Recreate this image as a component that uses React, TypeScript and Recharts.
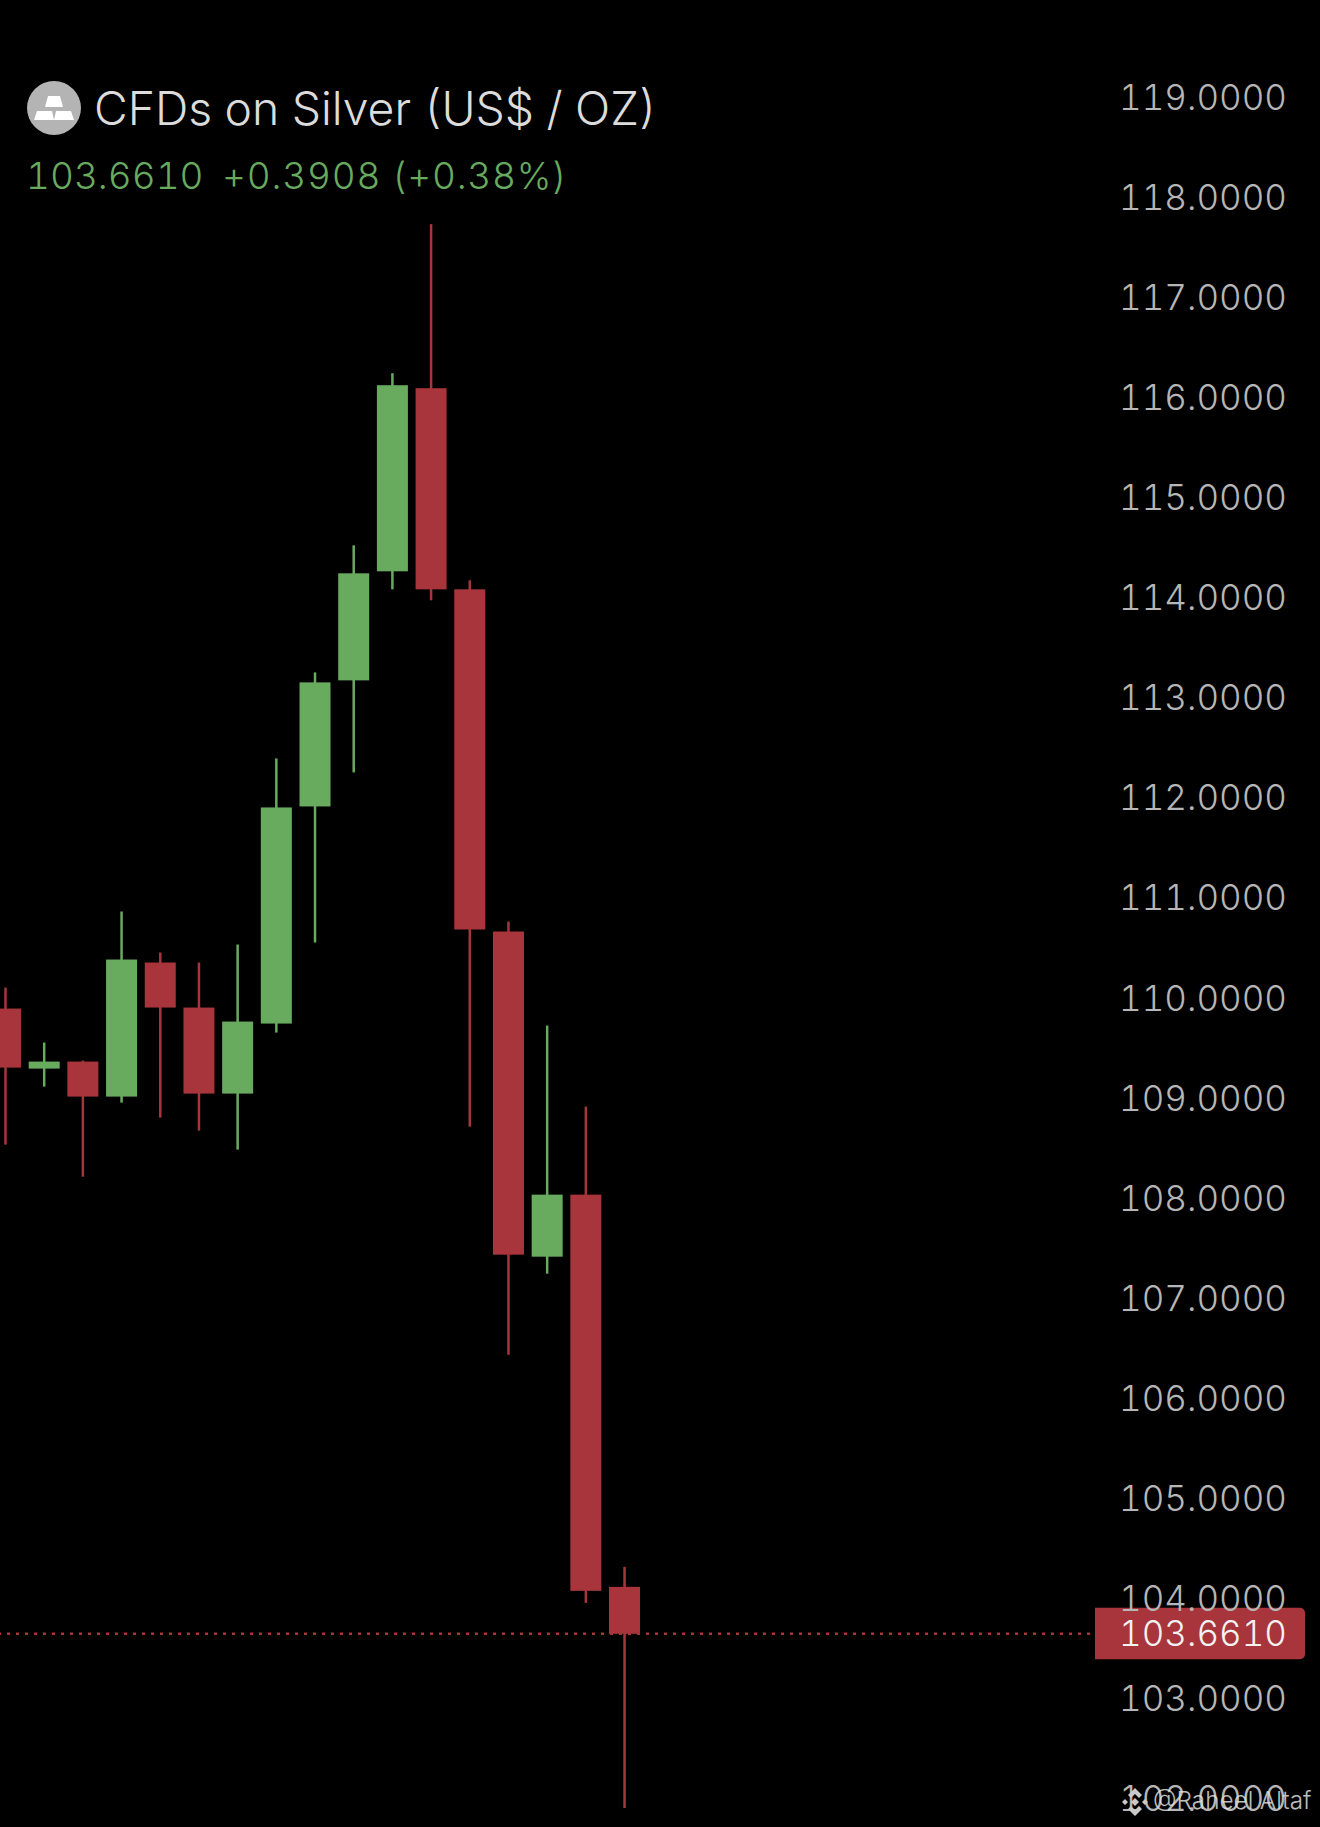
import { Bar, ComposedChart, ReferenceLine, XAxis, YAxis } from "recharts";

const slots = [
  "c01", "c02", "c03", "c04", "c05", "c06", "c07", "c08", "c09", "c10", "c11", "c12", "c13", "c14", "c15", "c16", "c17",
  "e01", "e02", "e03", "e04", "e05", "e06", "e07", "e08", "e09", "e10", "e11", "e12",
];
const opens = [109.91, 109.31, 109.38, 109.03, 110.37, 109.92, 109.06, 109.76, 111.93, 113.19, 114.28, 116.11, 114.1, 110.68, 107.43, 108.05, 104.13];
const highs = [110.12, 109.57, 109.39, 110.88, 110.47, 110.37, 110.55, 112.41, 113.27, 114.54, 116.26, 117.75, 114.19, 110.78, 109.74, 108.93, 104.33];
const lows = [108.55, 109.13, 108.23, 108.97, 108.82, 108.69, 108.5, 109.67, 110.57, 112.27, 114.1, 113.99, 108.73, 106.45, 107.26, 103.97, 101.92];
const closes = [109.32, 109.38, 109.03, 110.4, 109.92, 109.06, 109.78, 111.92, 113.17, 114.26, 116.14, 114.1, 110.7, 107.45, 108.05, 104.09, 103.661];
const priceTicks = [119, 118, 117, 116, 115, 114, 113, 112, 111, 110, 109, 108, 107, 106, 105, 104, 103, 102];
const lastPrice = 103.661;

const GREEN = "#68ab5f";
const RED = "#a8353b";
const FONT = "Inter, 'Liberation Sans', sans-serif";

const data = slots.map((slot, i) => ({
  slot,
  open: opens[i] ?? null,
  high: highs[i] ?? null,
  low: lows[i] ?? null,
  close: closes[i] ?? null,
}));

function Candle(props: any) {
  const { x, y, width, height, payload } = props;
  if (payload.high == null) return null;
  const perUnit = height / (payload.high - payload.low);
  const top = Math.max(payload.open, payload.close);
  const bottom = Math.min(payload.open, payload.close);
  const color = payload.close >= payload.open ? GREEN : RED;
  return (
    <g>
      <rect x={x + width / 2 - 1.25} y={y} width={2.5} height={height} fill={color} />
      <rect
        x={x}
        y={y + (payload.high - top) * perUnit}
        width={width}
        height={(top - bottom) * perUnit}
        fill={color}
      />
    </g>
  );
}

function PriceTick({ y, payload }: any) {
  return (
    <text
      x={1287}
      y={y}
      dy={11}
      textAnchor="end"
      fill="#b6b6b6"
      fontFamily={FONT}
      fontSize={35}
      fontWeight={300}
      style={{ fontVariantNumeric: "tabular-nums" }}
    >
      {payload.value.toFixed(4)}
    </text>
  );
}

function PriceTag({ viewBox }: any) {
  const cy = viewBox.y;
  return (
    <g>
      <path
        d={`M1095 ${cy - 26}H1300a5 5 0 0 1 5 5V${cy + 20.5}a5 5 0 0 1 -5 5H1095Z`}
        fill={RED}
      />
      <text
        x={1287}
        y={cy}
        dy={12}
        textAnchor="end"
        fill="#f2f2f2"
        fontFamily={FONT}
        fontSize={35}
        fontWeight={300}
        style={{ fontVariantNumeric: "tabular-nums" }}
      >
        {lastPrice.toFixed(4)}
      </text>
    </g>
  );
}

function GoldIcon() {
  return (
    <svg width={54} height={54} style={{ position: "absolute", left: 27, top: 81 }}>
      <circle cx={27} cy={27} r={27} fill="#b4b4b4" />
      <path d="M21 15H33L36 26H18Z M10 30H25L27 39H7Z M29 30H44L47 39H27Z" fill="#fff" />
    </svg>
  );
}

const textBase = {
  position: "absolute",
  fontFamily: FONT,
  whiteSpace: "nowrap",
  fontVariantNumeric: "tabular-nums",
} as const;

export default function App() {
  return (
    <div style={{ position: "absolute", left: 0, top: 0, width: 1320, height: 1827, background: "#000", overflow: "hidden" }}>
      <ComposedChart
        width={1320}
        height={1827}
        data={data}
        margin={{ top: 0, right: 0, bottom: 0, left: -14 }}
        barCategoryGap={0}
      >
        <XAxis dataKey="slot" hide />
        <YAxis
          orientation="right"
          width={212}
          domain={[101.73, 119.99]}
          ticks={priceTicks}
          interval={0}
          allowDataOverflow
          axisLine={false}
          tickLine={false}
          tick={<PriceTick />}
        />
        <Bar
          dataKey={(d: any) => (d.high == null ? null : [d.low, d.high])}
          barSize={31}
          shape={<Candle />}
          isAnimationActive={false}
        />
        <ReferenceLine y={lastPrice} stroke={RED} strokeWidth={2.5} strokeDasharray="3 6" label={<PriceTag />} />
      </ComposedChart>

      <GoldIcon />
      <div style={{ ...textBase, left: 94, top: 80, fontSize: 46.3, lineHeight: "56px", color: "#dcdcdc", fontWeight: 300 }}>
        CFDs on Silver (US$ / OZ)
      </div>
      <div style={{ ...textBase, left: 26, top: 153, fontSize: 37, lineHeight: "46px", color: GREEN, fontWeight: 300 }}>103.6610</div>
      <div style={{ ...textBase, left: 222, top: 153, fontSize: 37, lineHeight: "46px", letterSpacing: 0.8, color: GREEN, fontWeight: 300 }}>
        +0.3908 (+0.38%)
      </div>

      <svg width={30} height={30} style={{ position: "absolute", left: 1120, top: 1787 }}>
        <path d="M15 1L22 8L19 11L15 7L11 11L8 8Z M5 12L8 15L5 18L2 15Z M25 12L28 15L25 18L22 15Z M15 11L19 15L15 19L11 15Z M8 22L11 19L15 23L19 19L22 22L15 29Z" fill="#c9c9c9" />
      </svg>
      <div style={{ ...textBase, left: 1153, top: 1785, fontSize: 24.3, lineHeight: "30px", color: "rgba(225,225,225,0.85)", fontWeight: 300 }}>
        @Raheel Altaf
      </div>
    </div>
  );
}
